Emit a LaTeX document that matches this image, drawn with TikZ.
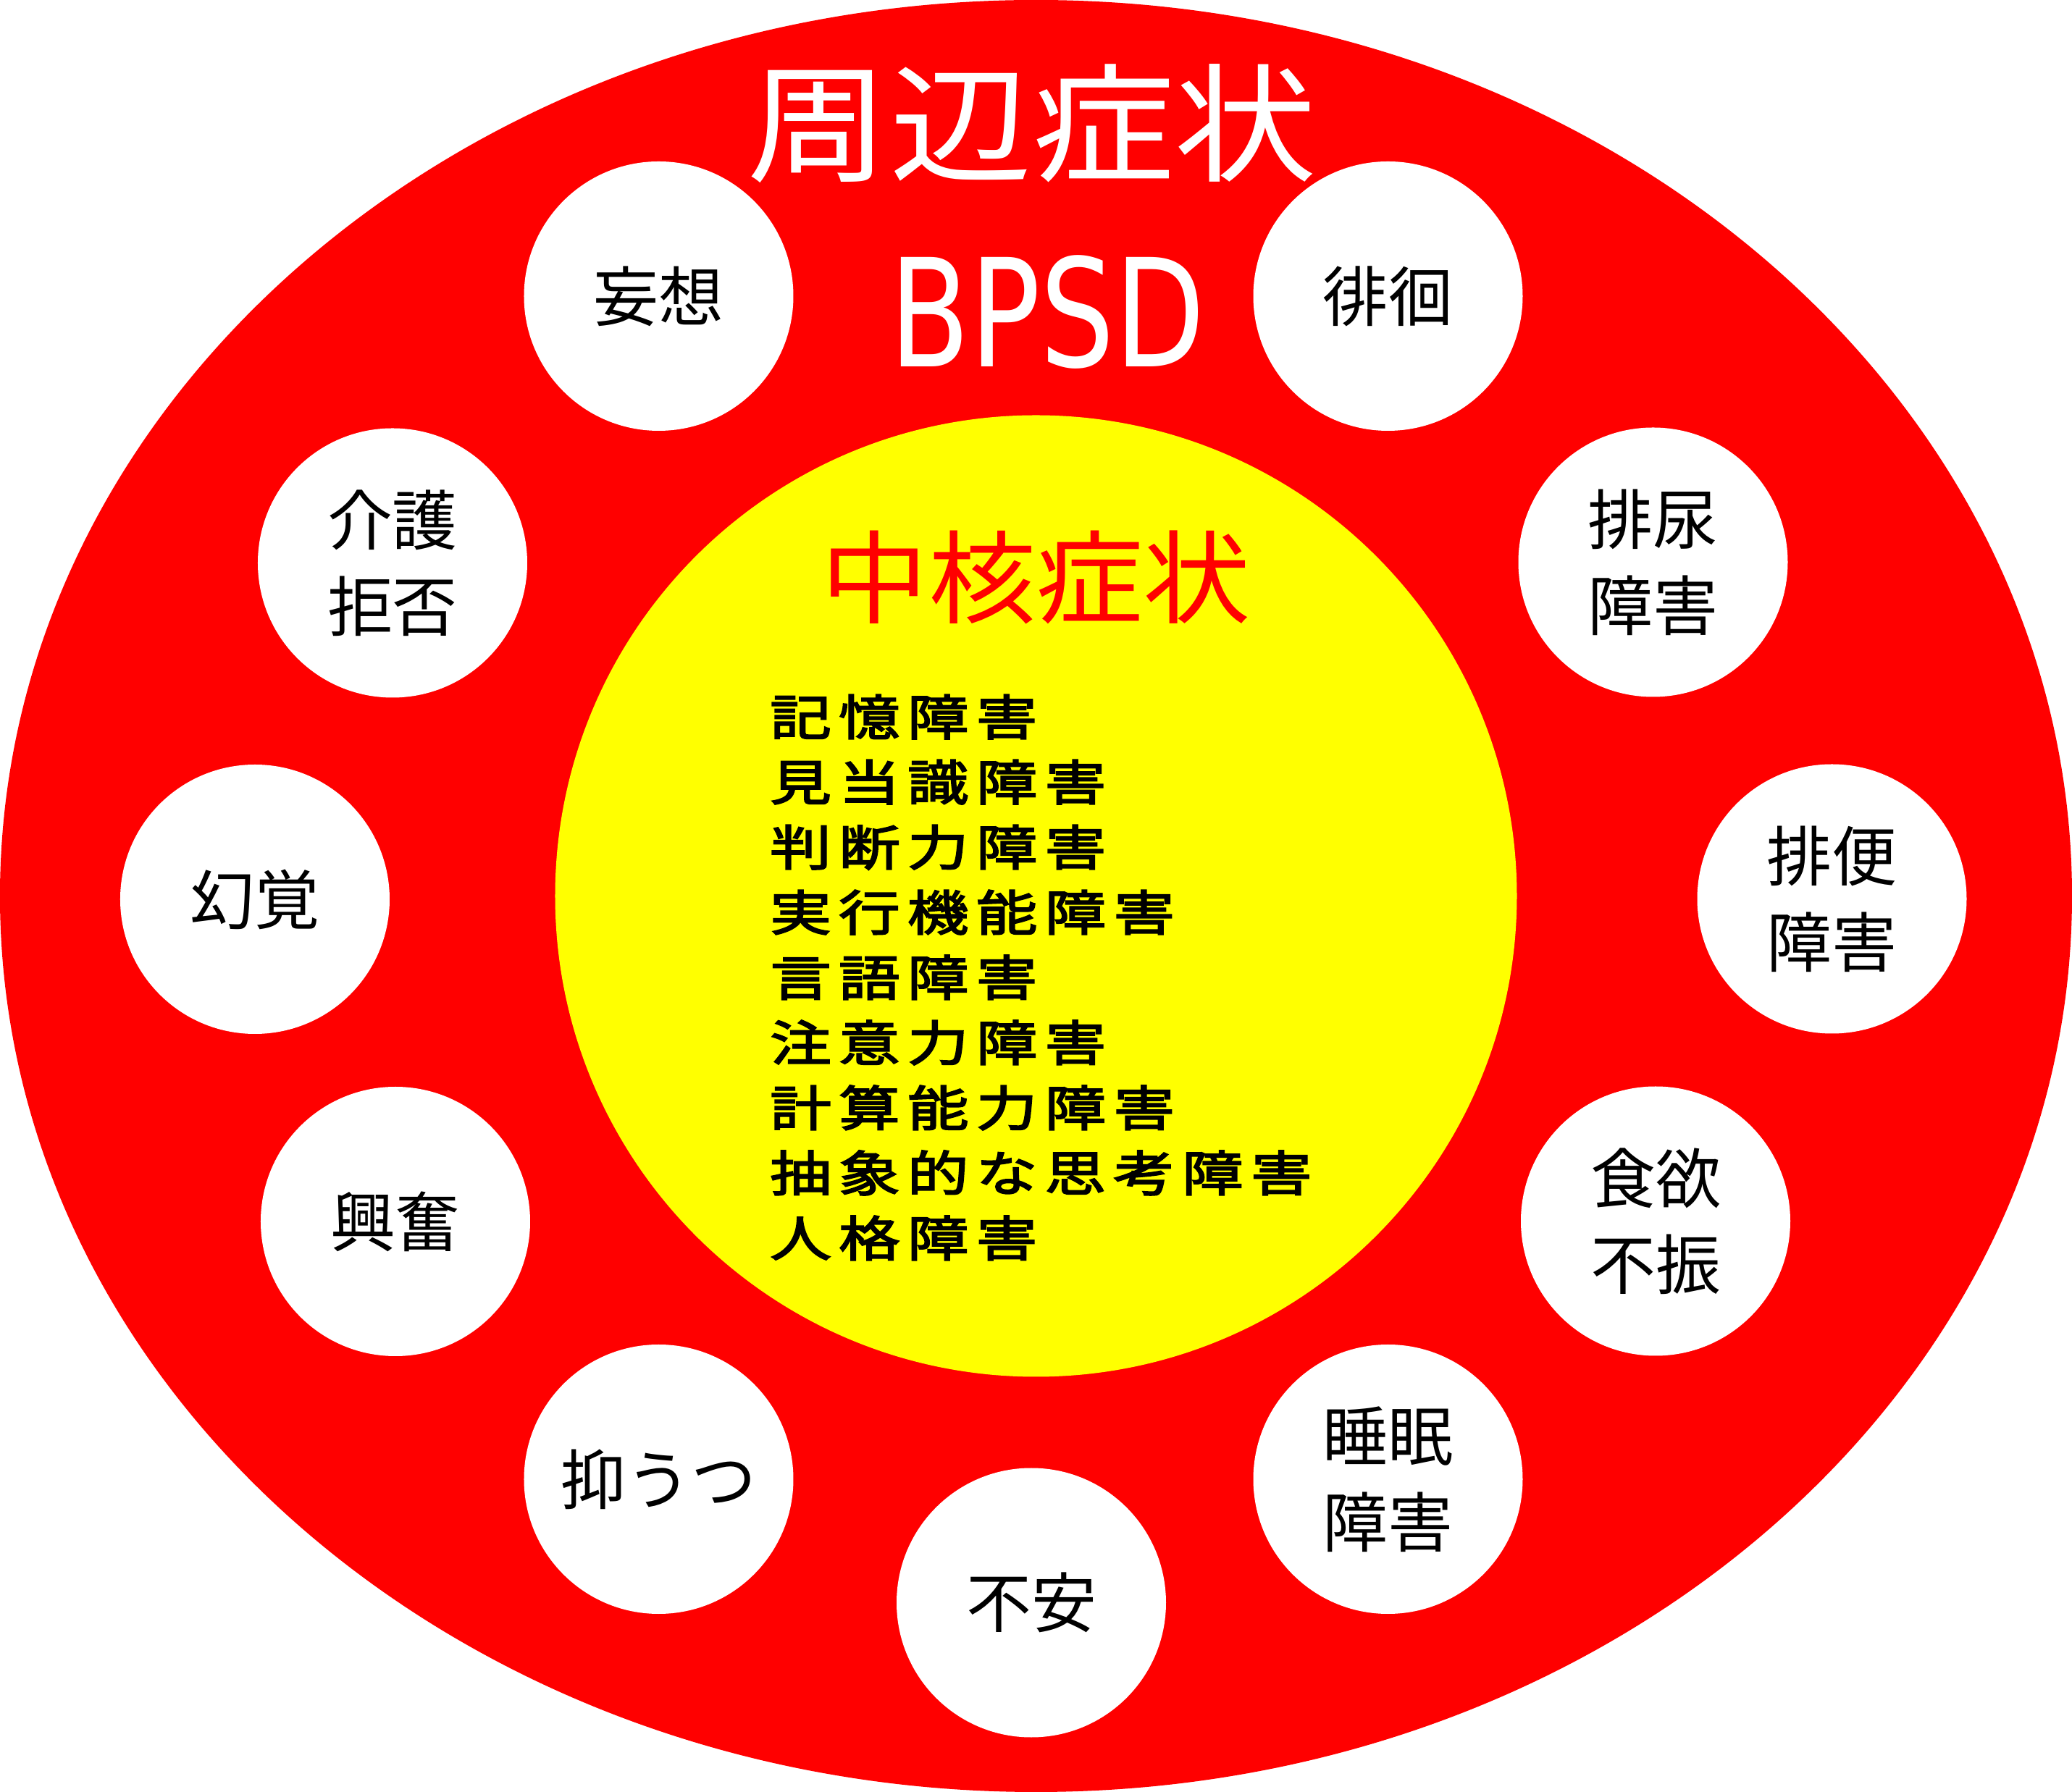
\documentclass[tikz,border=0pt]{standalone}
\usepackage{fontspec}
\usepackage{tikz}
\usetikzlibrary{positioning}
\newfontfamily\jpfont{Noto Sans CJK JP}
\newfontfamily\titlefont[FakeStretch=1.11]{Noto Sans CJK JP}
\newfontfamily\corefont[FakeStretch=1.06]{Noto Sans CJK JP}
\newfontfamily\listfont[FakeStretch=1.27,LetterSpace=15,FakeBold=3]{Noto Sans CJK JP}
\newfontfamily\bpsdfont[FakeStretch=0.78]{DejaVu Sans}
\definecolor{outerred}{RGB}{255,0,0}
\definecolor{coreyellow}{RGB}{255,255,0}

\begin{document}
\begin{tikzpicture}[
    symptom/.style={circle,
          fill=white,
          minimum size=3.72cm,
          inner sep=0pt,
          align=center,
          font=\jpfont\fontsize{25.6pt}{33.9pt}\selectfont}]
   \useasboundingbox (-14.305,-12.375) rectangle (14.305,12.375);
   \fill[outerred] (0,0) ellipse [x radius=14.305cm, y radius=12.375cm];
   \node[circle,
          fill=coreyellow,
          minimum size=13.28cm,
          inner sep=0pt] (core) at (0,0) {};

   \node[text=white, font=\titlefont\fontsize{50.4pt}{50.4pt}\selectfont] (title) at (-0.055,10.67) {周辺症状};
   \node[text=white, font=\bpsdfont\fontsize{59pt}{59pt}\selectfont] (bpsd) at (0.155,8.06) {BPSD};
   \node[text=outerred, font=\corefont\fontsize{39.8pt}{39.8pt}\selectfont] (coretitle) at (0,4.395) {中核症状};
   \node[anchor=west,
          align=left,
          inner sep=0pt,
          font=\listfont\fontsize{19pt}{25.6pt}\selectfont] (corelist) at (-3.68,-1.125)
          {記憶障害\\見当識障害\\判断力障害\\実行機能障害\\言語障害\\注意力障害\\計算能力障害\\抽象的な思考障害\\人格障害};

   \node[symptom] (delusion) at (-5.21,8.285) {妄想};
   \node[symptom] (wandering) at (4.86,8.285) {徘徊};
   \node[symptom] (refusal) at (-8.885,4.60) {介護\\拒否};
   \node[symptom] (urination) at (8.52,4.61) {排尿\\障害};
   \node[symptom] (hallucination) at (-10.785,-0.045) {幻覚};
   \node[symptom] (defecation) at (10.99,-0.04) {排便\\障害};
   \node[symptom] (agitation) at (-8.845,-4.495) {興奮};
   \node[symptom] (appetite) at (8.555,-4.49) {食欲\\不振};
   \node[symptom] (depression) at (-5.21,-8.055) {抑うつ};
   \node[symptom] (sleep) at (4.86,-8.055) {睡眠\\障害};
   \node[symptom] (anxiety) at (-0.065,-9.76) {不安};
\end{tikzpicture}
\end{document}
